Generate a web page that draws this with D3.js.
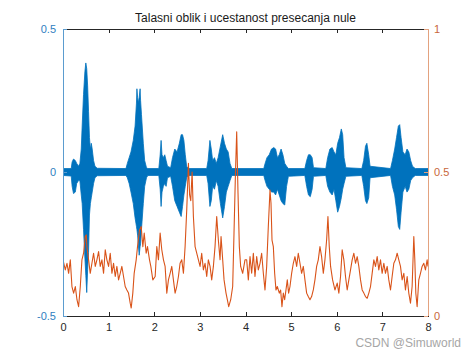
<!DOCTYPE html>
<html>
<head>
<meta charset="utf-8">
<script src="https://cdn.jsdelivr.net/npm/d3@7"></script>
<style>
  html, body { margin: 0; padding: 0; background: #fff; }
  svg { display: block; }
  text { font-family: "Liberation Sans", Arial, sans-serif; }
</style>
</head>
<body>
<svg id="chart" width="474" height="355"></svg>
<script>
// ---- Data ----
const title = "Talasni oblik i ucestanost presecanja nule";
const xTicks = [0, 1, 2, 3, 4, 5, 6, 7, 8];
const leftTicks = [-0.5, 0, 0.5];
const rightTicks = [0, 0.5, 1];

// waveform envelope (time in s, upper / lower amplitude)
const waveT = [0.00,0.18,0.20,0.23,0.27,0.30,0.34,0.37,0.40,0.42,0.45,0.48,0.50,0.52,0.54,0.56,0.58,0.60,0.62,0.64,0.67,0.70,0.75,
  1.38,1.41,1.45,1.49,1.54,1.58,1.61,1.62,1.635,1.65,1.67,1.69,1.70,1.72,1.76,1.79,1.83,1.86,
  2.10,2.13,2.15,2.17,2.20,2.23,2.26,2.29,2.36,2.40,2.45,2.50,2.55,2.59,2.62,2.65,2.68,2.71,2.75,
  3.15,3.18,3.22,3.25,3.28,3.32,3.36,3.40,3.45,3.50,3.54,3.58,3.62,3.66,3.70,
  4.40,4.43,4.47,4.52,4.57,4.62,4.66,4.70,4.74,4.78,4.82,4.86,4.90,4.94,
  5.30,5.34,5.38,5.42,5.46,5.49,
  5.76,5.80,5.85,5.90,5.94,5.98,6.02,6.06,6.10,6.13,6.16,6.20,
  6.55,6.59,6.63,6.66,6.70,6.73,
  7.18,7.22,7.27,7.31,7.35,7.38,7.41,7.45,7.50,7.54,7.58,7.62,7.66,7.72,8.00];
const waveUpper = [0.012,0.012,0.035,0.045,0.04,0.03,0.02,0.03,0.08,0.16,0.27,0.35,0.38,0.36,0.30,0.21,0.12,0.08,0.10,0.08,0.04,0.02,0.013,
  0.012,0.03,0.05,0.07,0.11,0.16,0.24,0.29,0.26,0.24,0.26,0.29,0.25,0.20,0.10,0.04,0.015,0.012,
  0.012,0.06,0.11,0.06,0.05,0.06,0.04,0.02,0.015,0.05,0.08,0.07,0.10,0.13,0.13,0.11,0.06,0.02,0.012,
  0.012,0.04,0.11,0.08,0.04,0.05,0.03,0.05,0.09,0.13,0.10,0.08,0.07,0.03,0.012,
  0.012,0.03,0.05,0.06,0.08,0.085,0.08,0.05,0.06,0.08,0.06,0.03,0.02,0.012,
  0.012,0.04,0.06,0.06,0.05,0.015,
  0.012,0.05,0.08,0.085,0.07,0.06,0.10,0.12,0.15,0.13,0.05,0.015,
  0.012,0.04,0.09,0.10,0.06,0.02,
  0.012,0.04,0.08,0.12,0.16,0.165,0.12,0.07,0.06,0.08,0.07,0.04,0.02,0.012,0.012];
const waveLower = [-0.012,-0.014,-0.05,-0.075,-0.07,-0.04,-0.03,-0.03,-0.08,-0.11,-0.20,-0.30,-0.36,-0.42,-0.34,-0.28,-0.15,-0.11,-0.09,-0.07,-0.04,-0.02,-0.013,
  -0.012,-0.02,-0.04,-0.07,-0.11,-0.16,-0.19,-0.20,-0.22,-0.25,-0.29,-0.26,-0.25,-0.20,-0.11,-0.05,-0.02,-0.012,
  -0.012,-0.06,-0.12,-0.07,-0.05,-0.04,-0.05,-0.02,-0.015,-0.05,-0.10,-0.12,-0.14,-0.155,-0.12,-0.08,-0.05,-0.02,-0.012,
  -0.012,-0.04,-0.12,-0.10,-0.05,-0.06,-0.03,-0.05,-0.11,-0.16,-0.12,-0.07,-0.05,-0.03,-0.012,
  -0.012,-0.03,-0.05,-0.06,-0.07,-0.07,-0.08,-0.06,-0.08,-0.10,-0.11,-0.115,-0.05,-0.015,
  -0.012,-0.05,-0.08,-0.086,-0.06,-0.015,
  -0.012,-0.05,-0.07,-0.08,-0.06,-0.10,-0.14,-0.12,-0.09,-0.06,-0.04,-0.015,
  -0.012,-0.05,-0.10,-0.11,-0.09,-0.02,
  -0.012,-0.05,-0.08,-0.13,-0.19,-0.20,-0.14,-0.07,-0.05,-0.07,-0.06,-0.03,-0.02,-0.012,-0.012];

// zero-crossing rate
const zcrT = [0.00,0.05,0.087,0.123,0.16,0.196,0.233,0.27,0.306,0.342,0.379,0.415,0.451,0.488,0.51,0.524,0.561,0.597,0.634,0.67,
  0.707,0.743,0.78,0.816,0.853,0.889,0.926,0.962,0.999,1.035,1.072,1.108,1.145,1.181,1.218,1.254,1.29,1.327,1.363,1.40,
  1.436,1.473,1.495,1.53,1.56,1.604,1.633,1.677,1.714,1.75,1.78,1.823,1.852,1.896,1.925,1.969,2.02,2.056,2.092,2.129,
  2.165,2.202,2.238,2.275,2.311,2.348,2.384,2.42,2.457,2.493,2.53,2.566,2.603,2.64,2.676,2.712,2.749,2.775,2.80,2.83,
  2.858,2.895,2.931,2.968,3.004,3.04,3.077,3.113,3.15,3.186,3.223,3.259,3.296,3.332,3.369,3.405,3.442,3.464,3.50,3.53,
  3.573,3.602,3.632,3.676,3.719,3.748,3.778,3.807,3.836,3.865,3.894,3.938,3.989,4.026,4.062,4.099,4.135,4.172,4.208,4.245,
  4.281,4.318,4.354,4.391,4.427,4.464,4.50,4.537,4.559,4.581,4.61,4.639,4.668,4.697,4.741,4.77,4.799,4.829,4.858,4.887,
  4.916,4.945,4.975,5.011,5.048,5.084,5.121,5.157,5.194,5.23,5.267,5.303,5.34,5.376,5.413,5.449,5.486,5.522,5.559,5.595,
  5.632,5.668,5.705,5.741,5.778,5.807,5.836,5.865,5.909,5.96,6.01,6.046,6.083,6.119,6.156,6.192,6.229,6.265,6.302,6.338,
  6.375,6.411,6.448,6.484,6.521,6.557,6.594,6.63,6.667,6.703,6.74,6.776,6.813,6.849,6.886,6.922,6.959,6.995,7.032,7.068,
  7.105,7.141,7.178,7.214,7.251,7.287,7.324,7.36,7.397,7.433,7.47,7.506,7.543,7.579,7.616,7.652,7.689,7.711,7.733,7.762,
  7.798,7.835,7.871,7.908,7.944,7.981,8.00];
const zcrV = [0.194,0.159,0.182,0.147,0.194,0.101,0.078,0.101,0.055,0.031,0.101,0.194,0.217,0.275,0.281,0.240,0.194,0.147,0.182,0.217,
  0.171,0.194,0.223,0.171,0.194,0.147,0.229,0.194,0.171,0.217,0.147,0.182,0.136,0.171,0.124,0.147,0.171,0.136,0.101,0.089,
  0.078,0.043,0.026,0.078,0.147,0.194,0.240,0.298,0.310,0.240,0.287,0.217,0.240,0.194,0.171,0.124,0.136,0.240,0.194,0.287,
  0.229,0.194,0.171,0.078,0.124,0.147,0.171,0.124,0.078,0.101,0.136,0.182,0.194,0.147,0.240,0.368,0.530,0.420,0.400,0.500,
  0.345,0.240,0.217,0.194,0.171,0.217,0.159,0.182,0.136,0.194,0.171,0.124,0.171,0.240,0.345,0.263,0.194,0.275,0.194,0.124,
  0.078,0.055,0.031,0.055,0.101,0.287,0.484,0.640,0.426,0.240,0.171,0.147,0.194,0.194,0.124,0.205,0.147,0.217,0.136,0.205,
  0.159,0.182,0.217,0.147,0.089,0.171,0.310,0.437,0.391,0.263,0.240,0.147,0.089,0.101,0.078,0.089,0.031,0.078,0.055,0.089,
  0.124,0.078,0.101,0.147,0.182,0.205,0.171,0.217,0.182,0.147,0.171,0.124,0.078,0.066,0.055,0.066,0.089,0.124,0.171,0.194,
  0.240,0.205,0.147,0.194,0.263,0.345,0.240,0.171,0.124,0.089,0.113,0.078,0.136,0.229,0.194,0.136,0.089,0.124,0.159,0.194,
  0.217,0.182,0.205,0.171,0.124,0.089,0.078,0.066,0.060,0.078,0.101,0.147,0.194,0.171,0.205,0.159,0.194,0.147,0.182,0.147,
  0.171,0.124,0.089,0.136,0.182,0.194,0.217,0.194,0.171,0.124,0.147,0.089,0.136,0.078,0.043,0.101,0.275,0.194,0.078,0.031,
  0.124,0.147,0.171,0.182,0.159,0.194,0.171];

// ---- Layout ----
const W = 474, H = 355;
const L = 63, R = 428, T = 28.5, B = 315.5;
const BLUE = "#0072BD", ORANGE = "#D95319", DARK = "#262626";

const svg = d3.select("#chart");
const x = d3.scaleLinear().domain([0, 8]).range([L, R]);
const yL = d3.scaleLinear().domain([-0.5, 0.5]).range([B, T]);
const yR = d3.scaleLinear().domain([0, 1]).range([B, T]);

svg.append("defs").append("clipPath").attr("id", "clip")
  .append("rect").attr("x", L).attr("y", T).attr("width", R - L).attr("height", B - T);

const plot = svg.append("g").attr("clip-path", "url(#clip)");

const wave = waveT.map((t, i) => ({ t, hi: waveUpper[i], lo: waveLower[i] }));
plot.append("path").datum(wave)
  .attr("d", d3.area().x(d => x(d.t)).y0(d => yL(d.lo)).y1(d => yL(d.hi)))
  .attr("fill", BLUE).attr("stroke", BLUE).attr("stroke-width", 0.8);

const zcr = zcrT.map((t, i) => ({ t, v: zcrV[i] }));
plot.append("path").datum(zcr)
  .attr("d", d3.line().x(d => x(d.t)).y(d => yR(d.v)))
  .attr("fill", "none").attr("stroke", ORANGE).attr("stroke-width", 1.1)
  .attr("stroke-linejoin", "round");

// ---- Axes ----
const fmt = d => d === 0 ? "0" : String(d);
const gB = svg.append("g").attr("transform", `translate(0,${B})`)
  .call(d3.axisBottom(x).tickValues(xTicks).tickSizeInner(-4).tickSizeOuter(0).tickPadding(8).tickFormat(fmt));
const gT = svg.append("g").attr("transform", `translate(0,${T})`)
  .call(d3.axisTop(x).tickValues(xTicks).tickSizeInner(-4).tickSizeOuter(0).tickFormat(""));
const gL = svg.append("g").attr("transform", `translate(${L},0)`)
  .call(d3.axisLeft(yL).tickValues(leftTicks).tickSizeInner(-4).tickSizeOuter(0).tickPadding(7).tickFormat(fmt));
const gR = svg.append("g").attr("transform", `translate(${R},0)`)
  .call(d3.axisRight(yR).tickValues(rightTicks).tickSizeInner(-4).tickSizeOuter(0).tickPadding(6).tickFormat(fmt));

[gB, gT].forEach(g => {
  g.select(".domain").attr("stroke", DARK).attr("stroke-width", 1);
  g.selectAll(".tick line").attr("stroke", DARK);
  g.selectAll("text").attr("fill", DARK).attr("font-size", 11);
});
gL.select(".domain").attr("stroke", "#5b9ccf");
gL.selectAll(".tick line").attr("stroke", "#5b9ccf");
gL.selectAll("text").attr("fill", "#2f80bf").attr("font-size", 11);
gR.select(".domain").attr("stroke", "#e3a27f");
gR.selectAll(".tick line").attr("stroke", "#e3a27f");
gR.selectAll("text").attr("fill", "#c8663a").attr("font-size", 11);
svg.selectAll(".domain, .tick line").attr("shape-rendering", "crispEdges");

// ---- Title & watermark ----
svg.append("text").attr("x", (L + R) / 2).attr("y", 22)
  .attr("text-anchor", "middle").attr("font-size", 12).attr("fill", "#1a1a1a").text(title);
svg.append("text").attr("x", 461).attr("y", 347)
  .attr("text-anchor", "end").attr("font-size", 12).attr("fill", "#a6a6a6").text("CSDN @Simuworld");
</script>
</body>
</html>
